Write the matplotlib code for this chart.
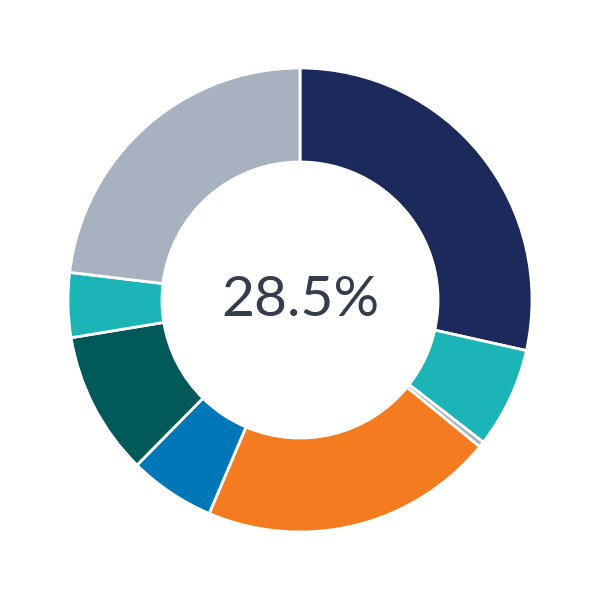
import matplotlib
matplotlib.use("Agg")
import matplotlib.pyplot as plt

# Slice shares, clockwise from 12 o'clock
shares = [28.5, 7.0, 0.4, 20.5, 6.0, 10.0, 4.5, 23.1]
colors = ["#1b2a5b", "#1bb5b8", "#a8b1c0", "#f47b20",
          "#0077b6", "#015959", "#1bb5b8", "#a8b1c0"]
center_label = "28.5%"

fig = plt.figure(figsize=(6, 6), dpi=100)
ax = fig.add_axes([0, 0, 1, 1])
ax.pie(shares, colors=colors, startangle=90, counterclock=False,
       radius=1.0,
       wedgeprops=dict(width=0.405, edgecolor="white", linewidth=2))
lim = 300 / 232
ax.set_xlim(-lim, lim)
ax.set_ylim(-lim, lim)
ax.set_aspect("equal")
ax.axis("off")
ax.text(0, 0.0, center_label, ha="center", va="center", fontsize=41,
        color="#333d4d", family=["Lato", "DejaVu Sans"])

fig.savefig("out.png", dpi=100)
